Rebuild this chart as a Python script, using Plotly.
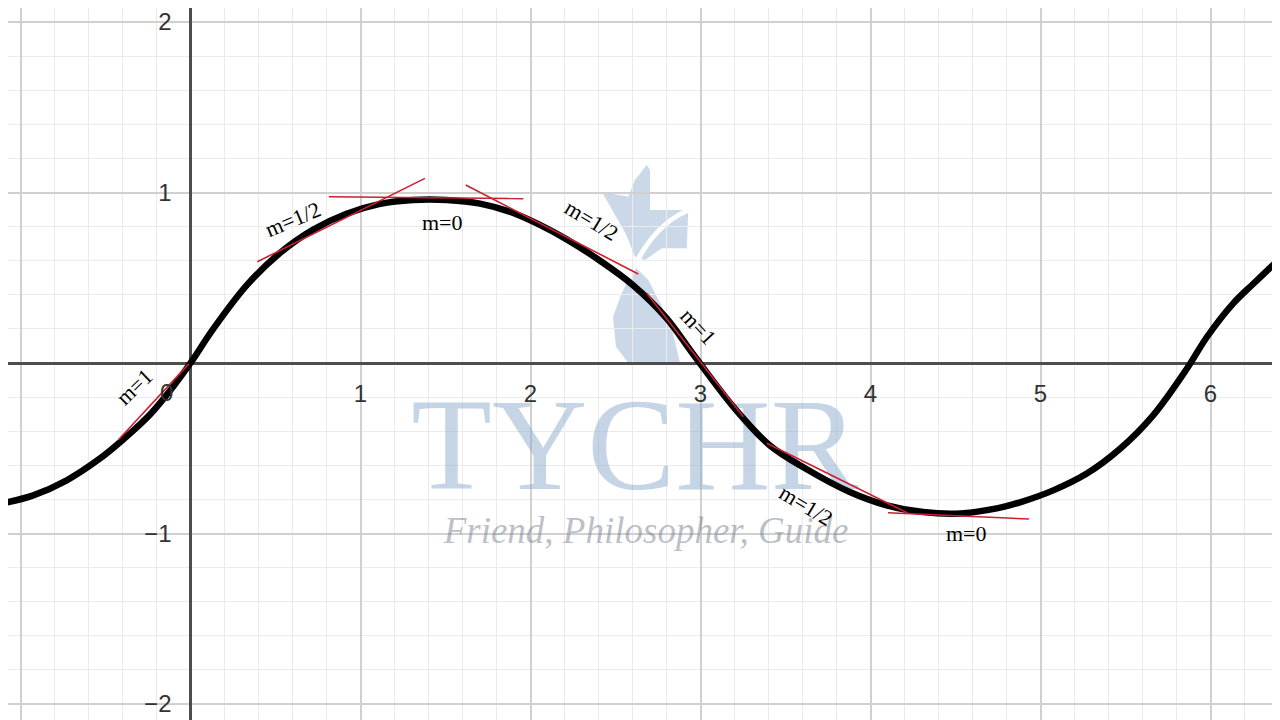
import plotly.graph_objects as go

# curve
curve_x = [-1.12, -0.925, -0.728, -0.532, -0.415, -0.238, -0.10, 0.0, 0.134, 0.33,
           0.526, 0.722, 0.918, 1.115, 1.31, 1.507, 1.703, 1.899, 2.055, 2.213,
           2.409, 2.605, 2.801, 2.958, 3.2, 3.41, 3.62, 3.875, 4.09, 4.31,
           4.53, 4.75, 4.88, 5.075, 5.27, 5.468, 5.66, 5.86, 5.98, 6.134,
           6.252, 6.41]
curve_y = [-0.826, -0.776, -0.688, -0.56, -0.465, -0.302, -0.136, 0.0, 0.2, 0.455,
           0.645, 0.782, 0.875, 0.933, 0.956, 0.956, 0.935, 0.88, 0.81, 0.725,
           0.6, 0.455, 0.262, 0.05, -0.265, -0.485, -0.62, -0.755, -0.833, -0.874,
           -0.882, -0.851, -0.817, -0.747, -0.65, -0.503, -0.31, -0.035, 0.154, 0.35,
           0.465, 0.615]

# tangent segments
tan_x0 = [-0.425, 0.393, 0.814, 1.619, 2.684, 3.39, 4.103]
tan_y0 = [-0.452, 0.594, 0.975, 1.044, 0.409, -0.471, -0.878]
tan_x1 = [-0.01, 1.379, 1.958, 2.634, 3.252, 4.223, 4.932]
tan_y1 = [-0.005, 1.083, 0.964, 0.522, -0.315, -0.882, -0.915]

# slope labels
label_text = ["m=1", "m=1/2", "m=0", "m=1/2", "m=1", "m=1/2", "m=0"]
label_x = [-0.328, 0.60, 1.482, 2.362, 2.986, 3.62, 4.567]
label_y = [-0.139, 0.843, 0.822, 0.838, 0.213, -0.838, -0.998]
label_angle = [-44, -23, 0, 31, 47, 31, 0]

x_ticks = [-1, 1, 2, 3, 4, 5, 6]
y_ticks = [-2, -1, 1, 2]
# page body has an 8px margin, so the plot starts 8px in
x_range = [-1.0735, 6.4088]
y_range = [-2.0938, 2.0821]

W, H = 1272, 712


def tick_text(vals):
    return [str(v).replace("-", "\u2212") for v in vals]


def px(x, y):
    # picture pixel -> paper fraction, only for the watermark logo
    return (x - 8) / W, 1 - (y - 8) / H


def path(points):
    p = [px(*pt) for pt in points]
    return "M " + " L ".join(f"{a:.4f},{b:.4f}" for a, b in p) + " Z"


def main():
    fig = go.Figure()

    # watermark text (under the curve)
    fig.add_trace(go.Scatter(
        x=[2.615], y=[-0.545], mode="text", text=["TYCHR"],
        textfont=dict(family="Liberation Serif", size=132, color="rgba(140,172,206,0.5)"),
        hoverinfo="skip"))
    fig.add_trace(go.Scatter(
        x=[2.68], y=[-1.0], mode="text", text=["Friend, Philosopher, Guide"],
        textfont=dict(family="Liberation Serif", size=37, style="italic",
                      color="rgba(120,128,145,0.5)"),
        hoverinfo="skip"))

    fig.add_trace(go.Scatter(
        x=curve_x, y=curve_y, mode="lines",
        line=dict(color="black", width=6.5, shape="spline", smoothing=1.0),
        hoverinfo="skip"))

    seg_x, seg_y = [], []
    for a, b, c, d in zip(tan_x0, tan_y0, tan_x1, tan_y1):
        seg_x += [a, c, None]
        seg_y += [b, d, None]
    fig.add_trace(go.Scatter(x=seg_x, y=seg_y, mode="lines",
                             line=dict(color="#cc1f30", width=1.6), hoverinfo="skip"))

    for t, x, y, a in zip(label_text, label_x, label_y, label_angle):
        fig.add_annotation(x=x, y=y, text=t, textangle=a, showarrow=False,
                           font=dict(family="Liberation Serif", size=22, color="black"))

    # origin label sits bottom-left of the origin
    fig.add_annotation(x=0, y=0, text="0", showarrow=False, xshift=-24, yshift=-29,
                       font=dict(family="Arial", size=24, color="#333"))

    # faint logo
    logo_top = [(646.7, 165), (650, 170), (650, 210), (688.3, 210), (686.7, 248.3),
                (661.7, 248.3), (645, 260), (635, 256.7), (626, 234), (602, 192),
                (628.3, 196.7), (635, 180)]
    logo_drop = [(635, 266.7), (621.7, 293.3), (613, 316.7), (616, 346.7), (628.3, 363),
                 (680, 363), (673, 333.3), (662, 306.7), (648.3, 280)]
    for pts in (logo_top, logo_drop):
        fig.add_shape(type="path", path=path(pts), xref="paper", yref="paper",
                      fillcolor="rgba(150,178,208,0.5)", line_width=0, layer="below")
    a, b, c = px(694, 208), px(652, 222), px(628, 280)
    fig.add_shape(type="path", path=f"M {a[0]:.4f},{a[1]:.4f} Q {b[0]:.4f},{b[1]:.4f} {c[0]:.4f},{c[1]:.4f}",
                  xref="paper", yref="paper", line=dict(color="white", width=5), layer="below")

    xpos = (0 - y_range[0]) / (y_range[1] - y_range[0])
    ypos = (0 - x_range[0]) / (x_range[1] - x_range[0])

    fig.update_layout(
        width=W, height=H, autosize=False,
        margin=dict(l=0, r=0, t=0, b=0),
        plot_bgcolor="white", paper_bgcolor="white",
        showlegend=False,
        xaxis=dict(range=x_range, anchor="free", position=xpos,
                   tickvals=x_ticks, ticktext=tick_text(x_ticks), ticks="",
                   ticklabelstandoff=14,
                   tickfont=dict(family="Arial", size=24, color="#333"),
                   showgrid=True, gridcolor="#d0d0d0", gridwidth=1.5,
                   minor=dict(dtick=0.2, tick0=0, showgrid=True, gridcolor="#ebebeb", gridwidth=1),
                   zeroline=True, zerolinecolor="#4d4d4d", zerolinewidth=2.5,
                   showline=False, fixedrange=True),
        yaxis=dict(range=y_range, anchor="free", position=ypos,
                   tickvals=y_ticks, ticktext=tick_text(y_ticks), ticks="",
                   ticklabelstandoff=19,
                   tickfont=dict(family="Arial", size=24, color="#333"),
                   showgrid=True, gridcolor="#d0d0d0", gridwidth=1.5,
                   minor=dict(dtick=0.2, tick0=0, showgrid=True, gridcolor="#ebebeb", gridwidth=1),
                   zeroline=True, zerolinecolor="#4d4d4d", zerolinewidth=2.5,
                   showline=False, fixedrange=True),
    )

    fig.write_html("out.html")


if __name__ == "__main__":
    main()
